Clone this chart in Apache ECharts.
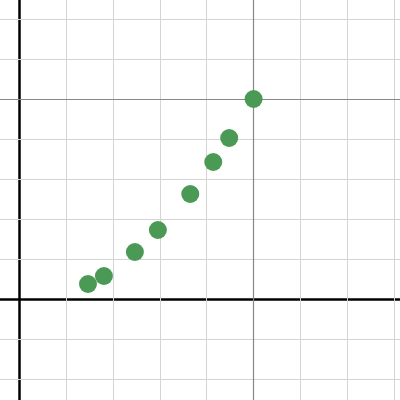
<!DOCTYPE html>
<html><head><meta charset="utf-8">
<script src="https://cdn.jsdelivr.net/npm/echarts@6/dist/echarts.min.js"></script>
<style>html,body{margin:0;padding:0;background:#fff}#c{width:400px;height:400px}</style>
</head><body><div id="c"></div>
<script>
const xValues = [1.47, 1.81, 2.47, 2.96, 3.65, 4.14, 4.48, 5.0];
const yValues = [0.375, 0.575, 1.175, 1.725, 2.625, 3.425, 4.025, 5.0];
const xGrid = [1, 2, 3, 4, 6, 7, 8];
const yGrid = [-2, -1, 1, 2, 3, 4, 6, 7];
const majorLines = [5];
const chart = echarts.init(document.getElementById('c'));
const ax = (min, max) => ({
  type: 'value', min: min, max: max,
  axisLine: {onZero: true, lineStyle: {color: '#000', width: 2.5}},
  axisTick: {show: false}, axisLabel: {show: false},
  splitLine: {show: false}
});
chart.setOption({
  animation: false,
  grid: {left: 0, right: 0, top: 0, bottom: 0, containLabel: false},
  xAxis: ax(-0.405, 8.12),
  yAxis: ax(-2.525, 7.475),
  series: [{
    type: 'scatter',
    data: [],
    markLine: {
      silent: true, symbol: 'none', label: {show: false},
      lineStyle: {color: '#d4d4d4', width: 1, type: 'solid'},
      data: xGrid.map(v => ({xAxis: v})).concat(yGrid.map(v => ({yAxis: v})))
    }
  }, {
    type: 'scatter',
    data: xValues.map((x, i) => [x, yValues[i]]),
    symbolSize: 18,
    itemStyle: {color: '#4a9a55', opacity: 1},
    z: 5,
    markLine: {
      silent: true, symbol: 'none', label: {show: false},
      lineStyle: {color: '#888', width: 1.2, type: 'solid'},
      data: majorLines.map(v => ({xAxis: v})).concat(majorLines.map(v => ({yAxis: v})))
    }
  }]
});
</script></body></html>
